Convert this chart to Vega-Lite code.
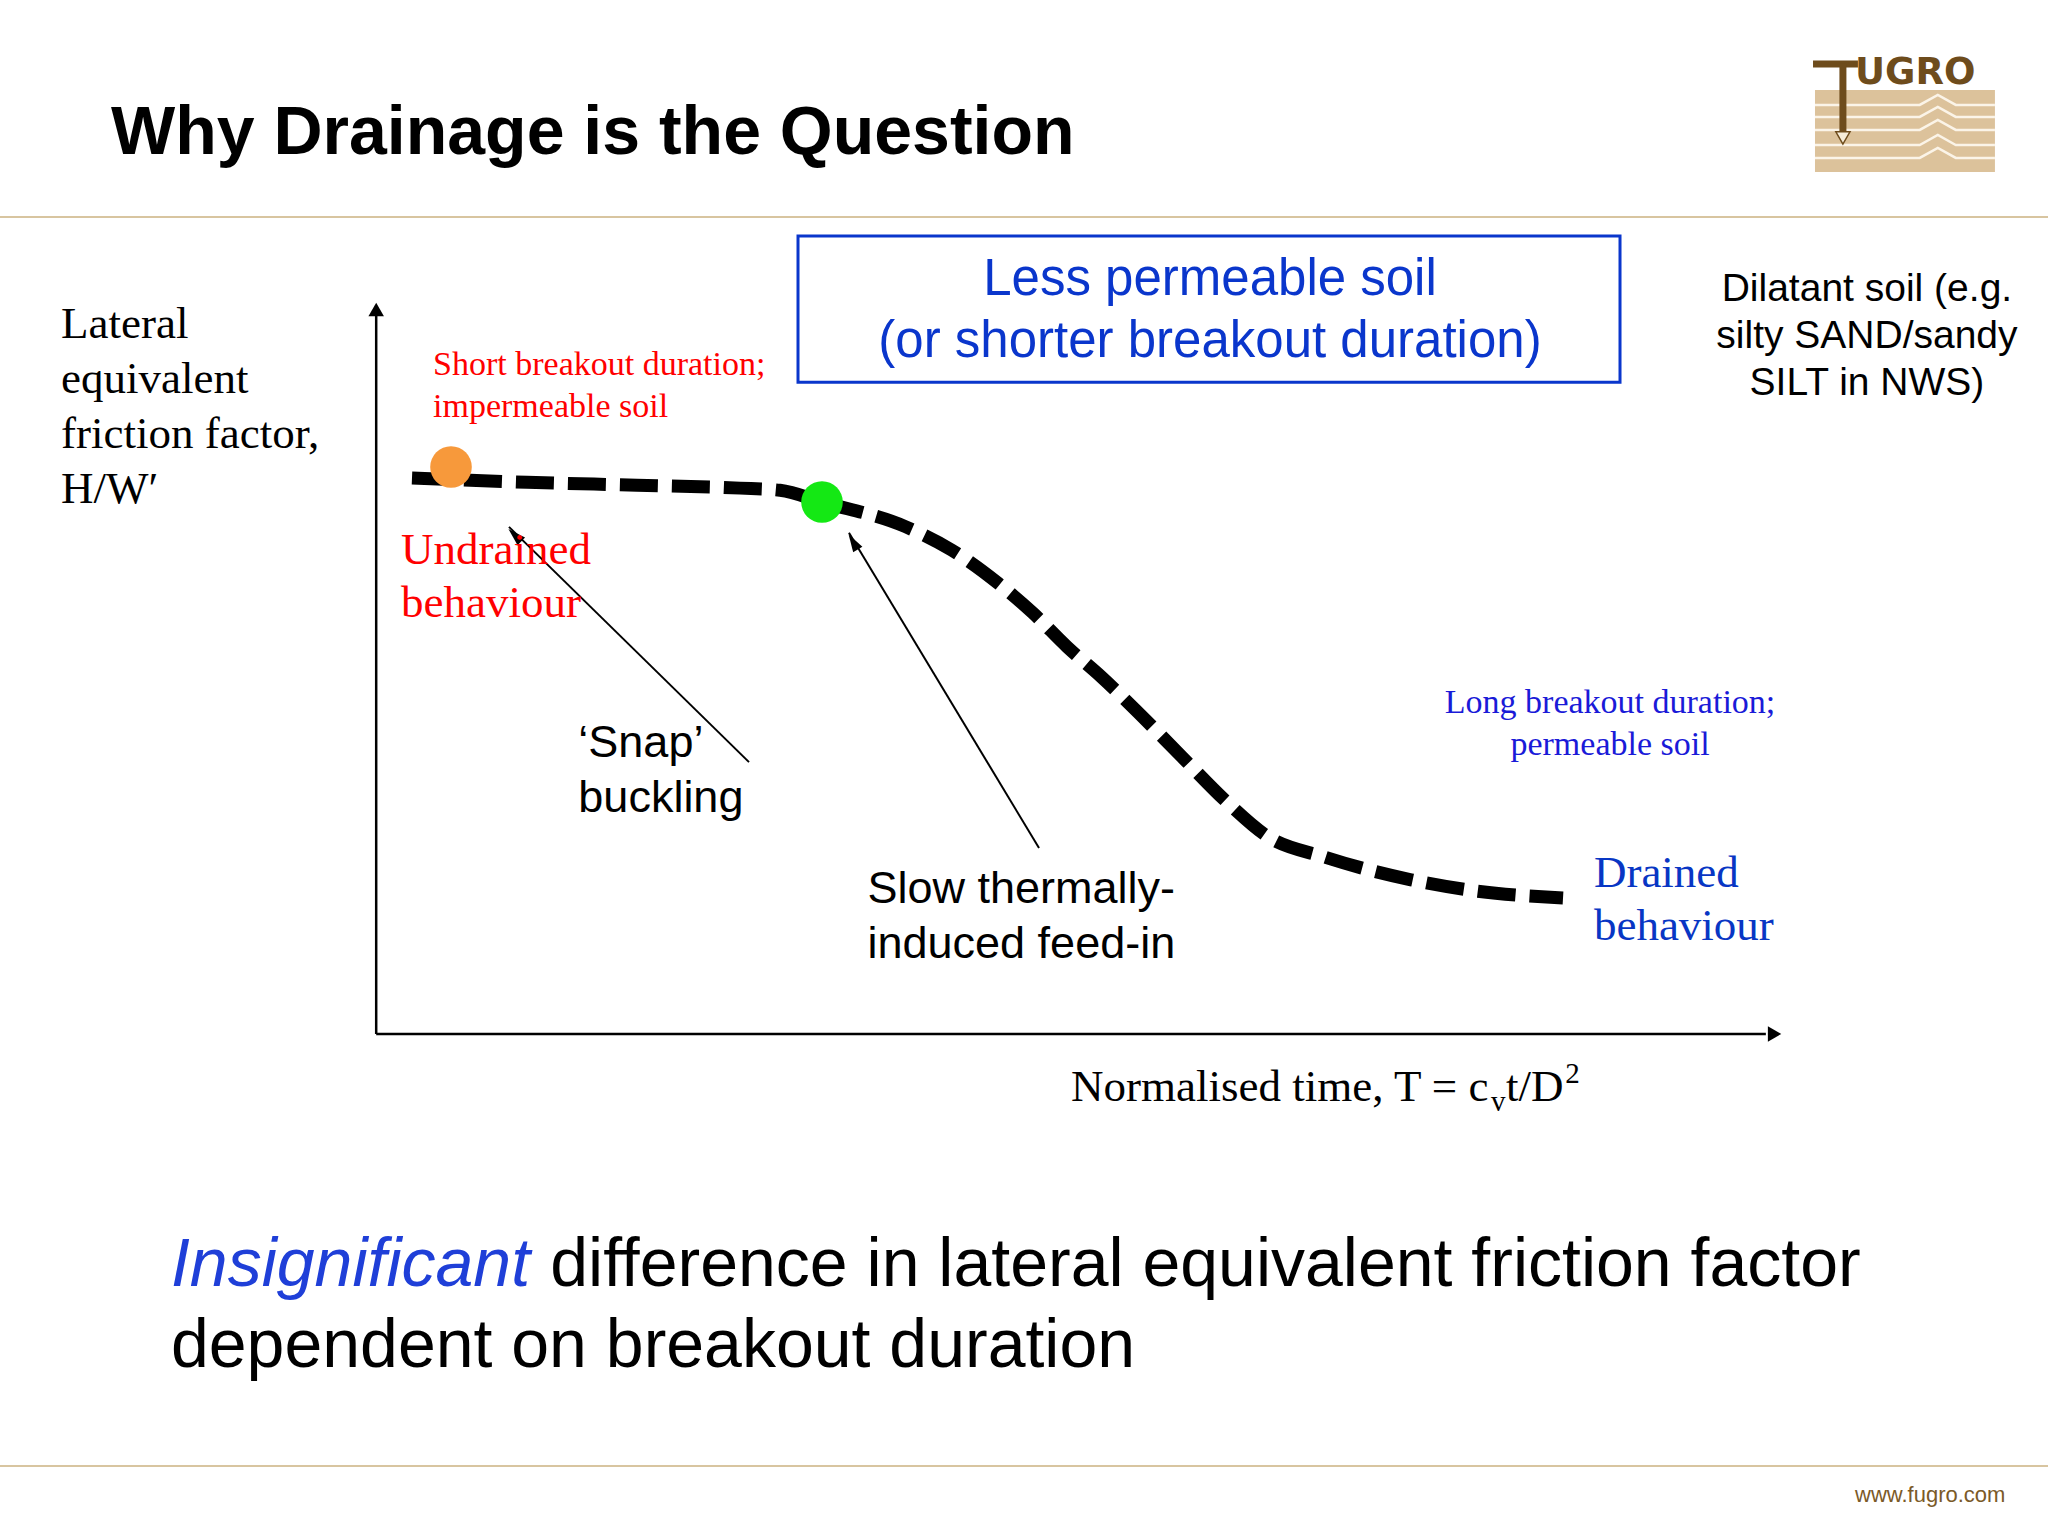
{
  "$schema": "https://vega.github.io/schema/vega-lite/v6.json",
  "width": 2048,
  "height": 1536,
  "autosize": {"type": "none"},
  "padding": 0,
  "background": "white",
  "config": {"view": {"stroke": null}},
  "datasets": {
    "frame": [
      {"x": -2.68, "x2": 11.91, "y": 1.1181, "y2": 1.1181},
      {"x": -2.68, "x2": 11.91, "y": -0.5912, "y2": -0.5912}
    ],
    "logoBlock": [{"x": 10.25, "x2": 11.532, "y": 1.292, "y2": 1.1797}],
    "logoStripes": [
      {"s": 1, "x": 10.25, "y": 1.2714}, {"s": 1, "x": 10.996, "y": 1.2714}, {"s": 1, "x": 11.125, "y": 1.2851}, {"s": 1, "x": 11.253, "y": 1.2714}, {"s": 1, "x": 11.532, "y": 1.2714},
      {"s": 2, "x": 10.25, "y": 1.255}, {"s": 2, "x": 10.996, "y": 1.255}, {"s": 2, "x": 11.125, "y": 1.2687}, {"s": 2, "x": 11.253, "y": 1.255}, {"s": 2, "x": 11.532, "y": 1.255},
      {"s": 3, "x": 10.25, "y": 1.2372}, {"s": 3, "x": 10.996, "y": 1.2372}, {"s": 3, "x": 11.125, "y": 1.2509}, {"s": 3, "x": 11.253, "y": 1.2372}, {"s": 3, "x": 11.532, "y": 1.2372},
      {"s": 4, "x": 10.25, "y": 1.2166}, {"s": 4, "x": 10.996, "y": 1.2166}, {"s": 4, "x": 11.125, "y": 1.2303}, {"s": 4, "x": 11.253, "y": 1.2166}, {"s": 4, "x": 11.532, "y": 1.2166},
      {"s": 5, "x": 10.25, "y": 1.1989}, {"s": 5, "x": 10.996, "y": 1.1989}, {"s": 5, "x": 11.125, "y": 1.2126}, {"s": 5, "x": 11.253, "y": 1.1989}, {"s": 5, "x": 11.532, "y": 1.1989}
    ],
    "logoBars": [
      {"x": 10.236, "x2": 10.556, "y": 1.3275, "y2": 1.3275},
      {"x": 10.449, "x2": 10.449, "y": 1.3275, "y2": 1.2344}
    ],
    "logoTip": [{"x": 10.449, "y": 1.2262}],
    "axes": [
      {"x": 0, "x2": 0, "y": 0, "y2": 0.985},
      {"x": 0, "x2": 9.9, "y": 0, "y2": 0}
    ],
    "yTip": [{"x": 0, "y": 0.9915}],
    "xTip": [{"x": 9.962, "y": 0}],
    "pointers": [
      {"x": 2.656, "y": 0.372, "x2": 0.946, "y2": 0.694},
      {"x": 4.722, "y": 0.2545, "x2": 3.368, "y2": 0.686}
    ],
    "snapTip": [{"x": 0.988, "y": 0.6825}],
    "slowTip": [{"x": 3.398, "y": 0.6735}],
    "curve": [
      {"x": 0.255, "y": 0.761},
      {"x": 1.074, "y": 0.755},
      {"x": 1.858, "y": 0.751},
      {"x": 2.592, "y": 0.747},
      {"x": 2.877, "y": 0.744},
      {"x": 3.176, "y": 0.728},
      {"x": 3.774, "y": 0.694},
      {"x": 4.102, "y": 0.662},
      {"x": 4.43, "y": 0.617},
      {"x": 4.679, "y": 0.576},
      {"x": 4.921, "y": 0.53},
      {"x": 5.164, "y": 0.489},
      {"x": 5.413, "y": 0.443},
      {"x": 5.741, "y": 0.379},
      {"x": 6.068, "y": 0.316},
      {"x": 6.353, "y": 0.27},
      {"x": 6.759, "y": 0.242},
      {"x": 7.372, "y": 0.211},
      {"x": 7.785, "y": 0.197},
      {"x": 8.455, "y": 0.186}
    ],
    "dots": [
      {"x": 0.533, "y": 0.776, "state": "Undrained"},
      {"x": 3.176, "y": 0.728, "state": "Feed-in"}
    ],
    "box": [{"x": 3.005, "x2": 8.861, "y": 1.092, "y2": 0.892}],
    "labels": [
      {"id": "title", "x": -1.889, "y": 1.204, "text": "Why Drainage is the Question"},
      {"id": "ylabel", "x": -2.245, "y": 0.9525, "text": "Lateral\nequivalent\nfriction factor,\nH/W′"},
      {"id": "short", "x": 0.405, "y": 0.9019, "text": "Short breakout duration;\nimpermeable soil"},
      {"id": "box", "x": 5.94, "y": 1.011, "text": "Less permeable soil\n(or shorter breakout duration)"},
      {"id": "dilatant", "x": 10.62, "y": 1.003, "text": "Dilatant soil (e.g.\nsilty SAND/sandy\nSILT in NWS)"},
      {"id": "undrained", "x": 0.1767, "y": 0.6432, "text": "Undrained\nbehaviour"},
      {"id": "snap", "x": 1.44, "y": 0.3791, "text": "‘Snap’\nbuckling"},
      {"id": "slow", "x": 3.5, "y": 0.1793, "text": "Slow thermally-\ninduced feed-in"},
      {"id": "long", "x": 8.79, "y": 0.4393, "text": "Long breakout duration;\npermeable soil"},
      {"id": "drained", "x": 8.675, "y": 0.2012, "text": "Drained\nbehaviour"},
      {"id": "xlab1", "x": 4.95, "y": -0.0917, "text": "Normalised time, T = c"},
      {"id": "xlabv", "x": 7.942, "y": -0.1054, "text": "v"},
      {"id": "xlab2", "x": 8.049, "y": -0.0917, "text": "t/D"},
      {"id": "xlabsup", "x": 8.47, "y": -0.0671, "text": "2"},
      {"id": "insig", "x": -1.462, "y": -0.3449, "text": "Insignificant"},
      {"id": "rest1", "x": 1.24, "y": -0.3449, "text": "difference in lateral equivalent friction factor"},
      {"id": "rest2", "x": -1.462, "y": -0.4557, "text": "dependent on breakout duration"},
      {"id": "url", "x": 10.535, "y": -0.6405, "text": "www.fugro.com"},
      {"id": "logo", "x": 10.535, "y": 1.3001, "text": "UGRO"}
    ]
  },
  "encoding": {
    "x": {"field": "x", "type": "quantitative", "scale": {"domain": [-2.68, 11.91], "nice": false, "zero": false}, "axis": null},
    "y": {"field": "y", "type": "quantitative", "scale": {"domain": [-0.687, 1.415], "nice": false, "zero": false}, "axis": null}
  },
  "layer": [
    {"data": {"name": "frame"}, "mark": {"type": "rule", "color": "#d8c5a0", "strokeWidth": 2},
     "encoding": {"x2": {"field": "x2"}, "y2": {"field": "y2"}}},
    {"data": {"name": "logoBlock"}, "mark": {"type": "rect", "color": "#dcc29b"},
     "encoding": {"x2": {"field": "x2"}, "y2": {"field": "y2"}}},
    {"data": {"name": "logoStripes"}, "mark": {"type": "line", "color": "#fbf4e8", "strokeWidth": 2.5},
     "encoding": {"detail": {"field": "s", "type": "nominal"}}},
    {"data": {"name": "logoBars"}, "mark": {"type": "rule", "color": "#6e4c1c", "strokeWidth": 7},
     "encoding": {"x2": {"field": "x2"}, "y2": {"field": "y2"}}},
    {"data": {"name": "logoTip"}, "mark": {"type": "point", "shape": "triangle-down", "filled": true, "size": 200, "color": "#f6ecd8", "stroke": "#6e4c1c", "strokeWidth": 1.5, "opacity": 1},
     "encoding": {}},
    {"data": {"name": "axes"}, "mark": {"type": "rule", "color": "black", "strokeWidth": 2.5},
     "encoding": {"x2": {"field": "x2"}, "y2": {"field": "y2"}}},
    {"data": {"name": "yTip"}, "mark": {"type": "point", "shape": "triangle-up", "filled": true, "size": 240, "color": "black", "opacity": 1},
     "encoding": {}},
    {"data": {"name": "xTip"}, "mark": {"type": "point", "shape": "triangle-right", "filled": true, "size": 240, "color": "black", "opacity": 1},
     "encoding": {}},
    {"data": {"name": "pointers"}, "mark": {"type": "rule", "color": "black", "strokeWidth": 2},
     "encoding": {"x2": {"field": "x2"}, "y2": {"field": "y2"}}},
    {"data": {"name": "snapTip"}, "mark": {"type": "point", "shape": "M0,-1L0.6,1L-0.6,1Z", "angle": 314, "filled": true, "size": 320, "color": "black", "opacity": 1},
     "encoding": {}},
    {"data": {"name": "slowTip"}, "mark": {"type": "point", "shape": "M0,-1L0.6,1L-0.6,1Z", "angle": 329, "filled": true, "size": 320, "color": "black", "opacity": 1},
     "encoding": {}},
    {"data": {"name": "curve"}, "mark": {"type": "line", "color": "black", "strokeWidth": 13, "strokeDash": [38, 14], "strokeCap": "butt", "interpolate": "monotone"}},
    {"data": {"name": "dots"}, "mark": {"type": "point", "filled": true, "size": 1730, "opacity": 1},
     "encoding": {"color": {"field": "state", "type": "nominal", "scale": {"domain": ["Undrained", "Feed-in"], "range": ["#f7993b", "#14e814"]}, "legend": null}}},
    {"data": {"name": "box"}, "mark": {"type": "rect", "fill": null, "fillOpacity": 0, "stroke": "#0a36cc", "strokeWidth": 3},
     "encoding": {"x2": {"field": "x2"}, "y2": {"field": "y2"}}},
    {"data": {"name": "labels"}, "transform": [{"filter": "datum.id === 'title'"}],
     "mark": {"type": "text", "font": "Liberation Sans", "fontWeight": "bold", "fontSize": 68, "align": "left", "baseline": "alphabetic", "color": "black"},
     "encoding": {"text": {"field": "text"}}},
    {"data": {"name": "labels"}, "transform": [{"filter": "datum.id === 'ylabel'"}],
     "mark": {"type": "text", "font": "Liberation Serif", "fontSize": 45, "lineHeight": 55, "lineBreak": "\n", "align": "left", "baseline": "alphabetic", "color": "black"},
     "encoding": {"text": {"field": "text"}}},
    {"data": {"name": "labels"}, "transform": [{"filter": "datum.id === 'short'"}],
     "mark": {"type": "text", "font": "Liberation Serif", "fontSize": 34, "lineHeight": 42, "lineBreak": "\n", "align": "left", "baseline": "alphabetic", "color": "#ff0000"},
     "encoding": {"text": {"field": "text"}}},
    {"data": {"name": "labels"}, "transform": [{"filter": "datum.id === 'box'"}],
     "mark": {"type": "text", "font": "Liberation Sans", "fontSize": 51, "lineHeight": 62, "lineBreak": "\n", "align": "center", "baseline": "alphabetic", "color": "#0a36cc"},
     "encoding": {"text": {"field": "text"}}},
    {"data": {"name": "labels"}, "transform": [{"filter": "datum.id === 'dilatant'"}],
     "mark": {"type": "text", "font": "Liberation Sans", "fontSize": 39, "lineHeight": 47, "lineBreak": "\n", "align": "center", "baseline": "alphabetic", "color": "black"},
     "encoding": {"text": {"field": "text"}}},
    {"data": {"name": "labels"}, "transform": [{"filter": "datum.id === 'undrained'"}],
     "mark": {"type": "text", "font": "Liberation Serif", "fontSize": 45, "lineHeight": 53, "lineBreak": "\n", "align": "left", "baseline": "alphabetic", "color": "#ff0000"},
     "encoding": {"text": {"field": "text"}}},
    {"data": {"name": "labels"}, "transform": [{"filter": "datum.id === 'snap' || datum.id === 'slow'"}],
     "mark": {"type": "text", "font": "Liberation Sans", "fontSize": 45, "lineHeight": 55, "lineBreak": "\n", "align": "left", "baseline": "alphabetic", "color": "black"},
     "encoding": {"text": {"field": "text"}}},
    {"data": {"name": "labels"}, "transform": [{"filter": "datum.id === 'long'"}],
     "mark": {"type": "text", "font": "Liberation Serif", "fontSize": 34, "lineHeight": 42, "lineBreak": "\n", "align": "center", "baseline": "alphabetic", "color": "#1a1ad8"},
     "encoding": {"text": {"field": "text"}}},
    {"data": {"name": "labels"}, "transform": [{"filter": "datum.id === 'drained'"}],
     "mark": {"type": "text", "font": "Liberation Serif", "fontSize": 45, "lineHeight": 53, "lineBreak": "\n", "align": "left", "baseline": "alphabetic", "color": "#0836c4"},
     "encoding": {"text": {"field": "text"}}},
    {"data": {"name": "labels"}, "transform": [{"filter": "datum.id === 'xlab1' || datum.id === 'xlab2'"}],
     "mark": {"type": "text", "font": "Liberation Serif", "fontSize": 45, "align": "left", "baseline": "alphabetic", "color": "black"},
     "encoding": {"text": {"field": "text"}}},
    {"data": {"name": "labels"}, "transform": [{"filter": "datum.id === 'xlabv' || datum.id === 'xlabsup'"}],
     "mark": {"type": "text", "font": "Liberation Serif", "fontSize": 29, "align": "left", "baseline": "alphabetic", "color": "black"},
     "encoding": {"text": {"field": "text"}}},
    {"data": {"name": "labels"}, "transform": [{"filter": "datum.id === 'insig'"}],
     "mark": {"type": "text", "font": "Liberation Sans", "fontStyle": "italic", "fontSize": 68, "align": "left", "baseline": "alphabetic", "color": "#1f3fd8"},
     "encoding": {"text": {"field": "text"}}},
    {"data": {"name": "labels"}, "transform": [{"filter": "datum.id === 'rest1' || datum.id === 'rest2'"}],
     "mark": {"type": "text", "font": "Liberation Sans", "fontSize": 68, "align": "left", "baseline": "alphabetic", "color": "black"},
     "encoding": {"text": {"field": "text"}}},
    {"data": {"name": "labels"}, "transform": [{"filter": "datum.id === 'url'"}],
     "mark": {"type": "text", "font": "Liberation Sans", "fontSize": 22, "align": "left", "baseline": "alphabetic", "color": "#7b5a28"},
     "encoding": {"text": {"field": "text"}}},
    {"data": {"name": "labels"}, "transform": [{"filter": "datum.id === 'logo'"}],
     "mark": {"type": "text", "font": "DejaVu Sans", "fontWeight": "bold", "fontSize": 37, "align": "left", "baseline": "alphabetic", "color": "#6e4c1c"},
     "encoding": {"text": {"field": "text"}}}
  ]
}
